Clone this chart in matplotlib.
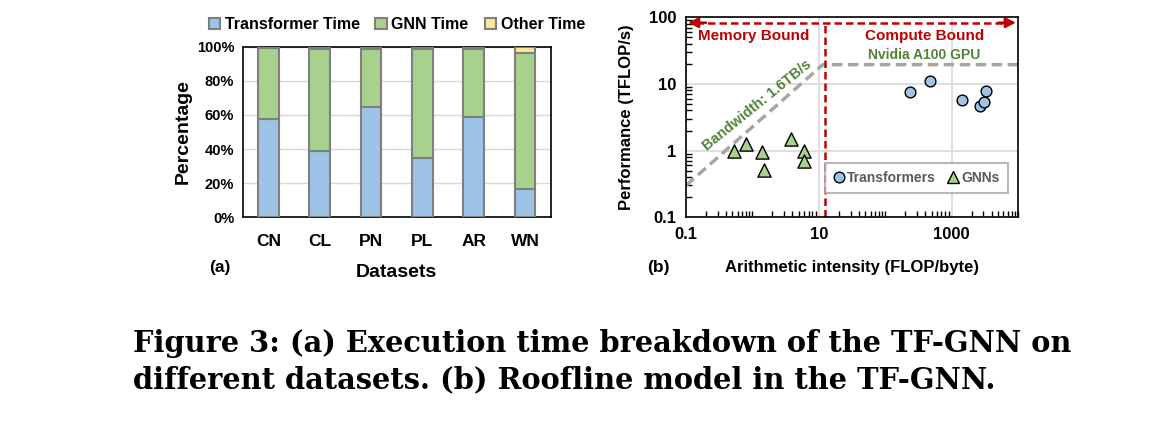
import matplotlib
matplotlib.use("Agg")
import matplotlib.pyplot as plt
import numpy as np
from matplotlib.lines import Line2D
from matplotlib.patches import Patch
from matplotlib.ticker import FixedLocator, LogLocator, NullFormatter

plt.rcParams["font.family"] = ["Liberation Sans", "DejaVu Sans"]
plt.rcParams["font.weight"] = "bold"
plt.rcParams["axes.labelweight"] = "bold"

# (a) execution time breakdown
datasets = ["CN", "CL", "PN", "PL", "AR", "WN"]
transformer_pct = [57.6, 39.1, 64.8, 34.8, 58.6, 16.8]
gnn_pct = [41.8, 59.7, 34.0, 63.8, 39.8, 79.3]
other_pct = [0.6, 1.2, 1.2, 1.4, 1.6, 3.9]

# (b) roofline
tf_intensity = [236, 468, 1440, 2700, 3030, 3290]
tf_perf = [7.5, 11.1, 5.75, 4.7, 5.4, 7.85]
gnn_intensity = [0.52, 0.80, 1.39, 1.47, 3.8, 6.0, 5.9]
gnn_perf = [1.0, 1.26, 0.97, 0.51, 1.48, 1.0, 0.71]
roof_x = [0.1, 11.5, 10000]
roof_y = [0.3, 19.5, 19.5]
ridge_split = 12.5

BLUE = "#9DC3E6"
GREEN = "#A9D18E"
YELLOW = "#FFE699"
EDGE = "#7F7F7F"
RED = "#C00000"
DKGREEN = "#548235"

fig = plt.figure(figsize=(11.59, 4.23), dpi=100)

# ---- left panel
ax1 = fig.add_axes([0.2094, 0.4863, 0.2657, 0.4033])
x = np.arange(len(datasets))
bot2 = np.array(transformer_pct) + np.array(gnn_pct)
kw = dict(width=0.4, edgecolor=EDGE, linewidth=1.5, zorder=3)
ax1.bar(x, transformer_pct, color=BLUE, **kw)
ax1.bar(x, gnn_pct, bottom=transformer_pct, color=GREEN, **kw)
ax1.bar(x, other_pct, bottom=bot2, color=YELLOW, **kw)
ax1.set_xlim(-0.5, 5.5)
ax1.set_ylim(0, 100)
ax1.set_yticks([0, 20, 40, 60, 80, 100])
ax1.set_yticklabels([f"{v}%" for v in [0, 20, 40, 60, 80, 100]], fontsize=10.5)
ax1.set_xticks(x)
ax1.set_xticklabels(datasets, fontsize=12.5)
ax1.tick_params(length=0)
ax1.tick_params(axis="x", pad=12)
ax1.tick_params(axis="y", pad=6)
ax1.yaxis.grid(True, color="#D9D9D9", linewidth=1, zorder=0)
ax1.set_axisbelow(True)
for s in ax1.spines.values():
    s.set_color("black")
    s.set_linewidth(1.2)
ax1.set_ylabel("Percentage", fontsize=14, labelpad=4)
ax1.set_xlabel("Datasets", fontsize=14, labelpad=11)
handles = [Patch(facecolor=c, edgecolor=EDGE, linewidth=1.5) for c in (BLUE, GREEN, YELLOW)]
ax1.legend(handles, ["Transformer Time", "GNN Time", "Other Time"], loc="center",
           bbox_to_anchor=(0.5, 1 + 22 / 170.6), ncol=3, frameon=False, fontsize=11.5,
           handlelength=0.7, handleheight=0.7, handletextpad=0.3, columnspacing=1.0,
           borderaxespad=0.0)
fig.text(220 / 1159, 1 - 267 / 423, "(a)", fontsize=12.5, ha="center", va="center")

# ---- right panel
ax2 = fig.add_axes([0.5919, 0.4863, 0.2865, 0.4728])
ax2.set_xscale("log")
ax2.set_yscale("log")
ax2.set_xlim(0.1, 10000)
ax2.set_ylim(0.1, 100)
ax2.xaxis.set_major_locator(FixedLocator([0.1, 10, 1000]))
ax2.set_xticklabels(["0.1", "10", "1000"], fontsize=12)
ax2.xaxis.set_minor_locator(LogLocator(base=10, subs=np.arange(1, 10), numticks=20))
ax2.xaxis.set_minor_formatter(NullFormatter())
ax2.set_yticks([0.1, 1, 10, 100])
ax2.set_yticklabels(["0.1", "1", "10", "100"], fontsize=12)
ax2.yaxis.set_minor_locator(LogLocator(base=10, subs=np.arange(2, 10), numticks=20))
ax2.yaxis.set_minor_formatter(NullFormatter())
ax2.tick_params(which="both", direction="in", color="black")
ax2.tick_params(which="major", length=0, pad=7)
ax2.tick_params(which="minor", length=4, width=1)
ax2.grid(True, which="major", color="#D9D9D9", linewidth=1.2, zorder=0)
ax2.set_axisbelow(True)
for s in ax2.spines.values():
    s.set_color("black")
    s.set_linewidth(1.2)
ax2.set_xlabel("Arithmetic intensity (FLOP/byte)", fontsize=12, labelpad=13)
ax2.set_ylabel("Performance (TFLOP/s)", fontsize=12, labelpad=11)

ax2.plot(roof_x, roof_y, color="#A6A6A6", linewidth=2.5, dashes=(3, 1.6), zorder=2)
ax2.plot([ridge_split, ridge_split], [0.1, 83], color=RED, linewidth=1.8, dashes=(3, 1.6), zorder=2)
ax2.plot([0.14, 6500], [83, 83], color=RED, linewidth=1.8, dashes=(3, 1.6), zorder=2)
for tip, tail in ((0.107, 0.2), (9300, 5000)):
    ax2.annotate("", xy=(tip, 83), xytext=(tail, 83),
                 arrowprops=dict(arrowstyle="-|>,head_length=0.6,head_width=0.3",
                                 color=RED, linewidth=1.8, shrinkA=0, shrinkB=0))

ax2.scatter(tf_intensity, tf_perf, s=60, marker="o", facecolor=BLUE, edgecolor="black",
            linewidth=1, zorder=4)
ax2.scatter(gnn_intensity, gnn_perf, s=90, marker="^", facecolor=GREEN, edgecolor="black",
            linewidth=1, zorder=4)

ax2.text(1.03, 52, "Memory Bound", color=RED, fontsize=11, ha="center", va="center")
ax2.text(385, 52, "Compute Bound", color=RED, fontsize=11, ha="center", va="center")
ax2.text(385, 27, "Nvidia A100 GPU", color=DKGREEN, fontsize=10, ha="center", va="center")
ax2.text(1.17, 4.8, "Bandwidth: 1.6TB/s", color=DKGREEN, fontsize=10.5, ha="center",
         va="center", rotation=39)

leg_handles = [
    Line2D([], [], marker="o", linestyle="none", markersize=7.7, markerfacecolor=BLUE,
           markeredgecolor="black", markeredgewidth=1),
    Line2D([], [], marker="^", linestyle="none", markersize=9, markerfacecolor=GREEN,
           markeredgecolor="black", markeredgewidth=1),
]
leg = ax2.legend(leg_handles, ["Transformers", "GNNs"], loc="lower right", ncol=2,
                 bbox_to_anchor=(0.99, 0.085), fontsize=10, handlelength=0.8,
                 handletextpad=0.2, columnspacing=0.8, fancybox=False,
                 borderpad=0.6, labelcolor="#595959")
leg.get_frame().set_edgecolor("#A6A6A6")
leg.get_frame().set_linewidth(1.5)
fig.text(658 / 1159, 1 - 267 / 423, "(b)", fontsize=12.5, ha="center", va="center")

# ---- caption
cap = dict(fontsize=20.8, fontweight="bold", family=["DejaVu Serif"],
           ha="left", va="baseline")
fig.text(133 / 1159, 1 - 352 / 423,
         "Figure 3: (a) Execution time breakdown of the TF-GNN on", **cap)
fig.text(133 / 1159, 1 - 388 / 423,
         "different datasets. (b) Roofline model in the TF-GNN.", **cap)

fig.savefig("out.png", dpi=100, facecolor="white")
